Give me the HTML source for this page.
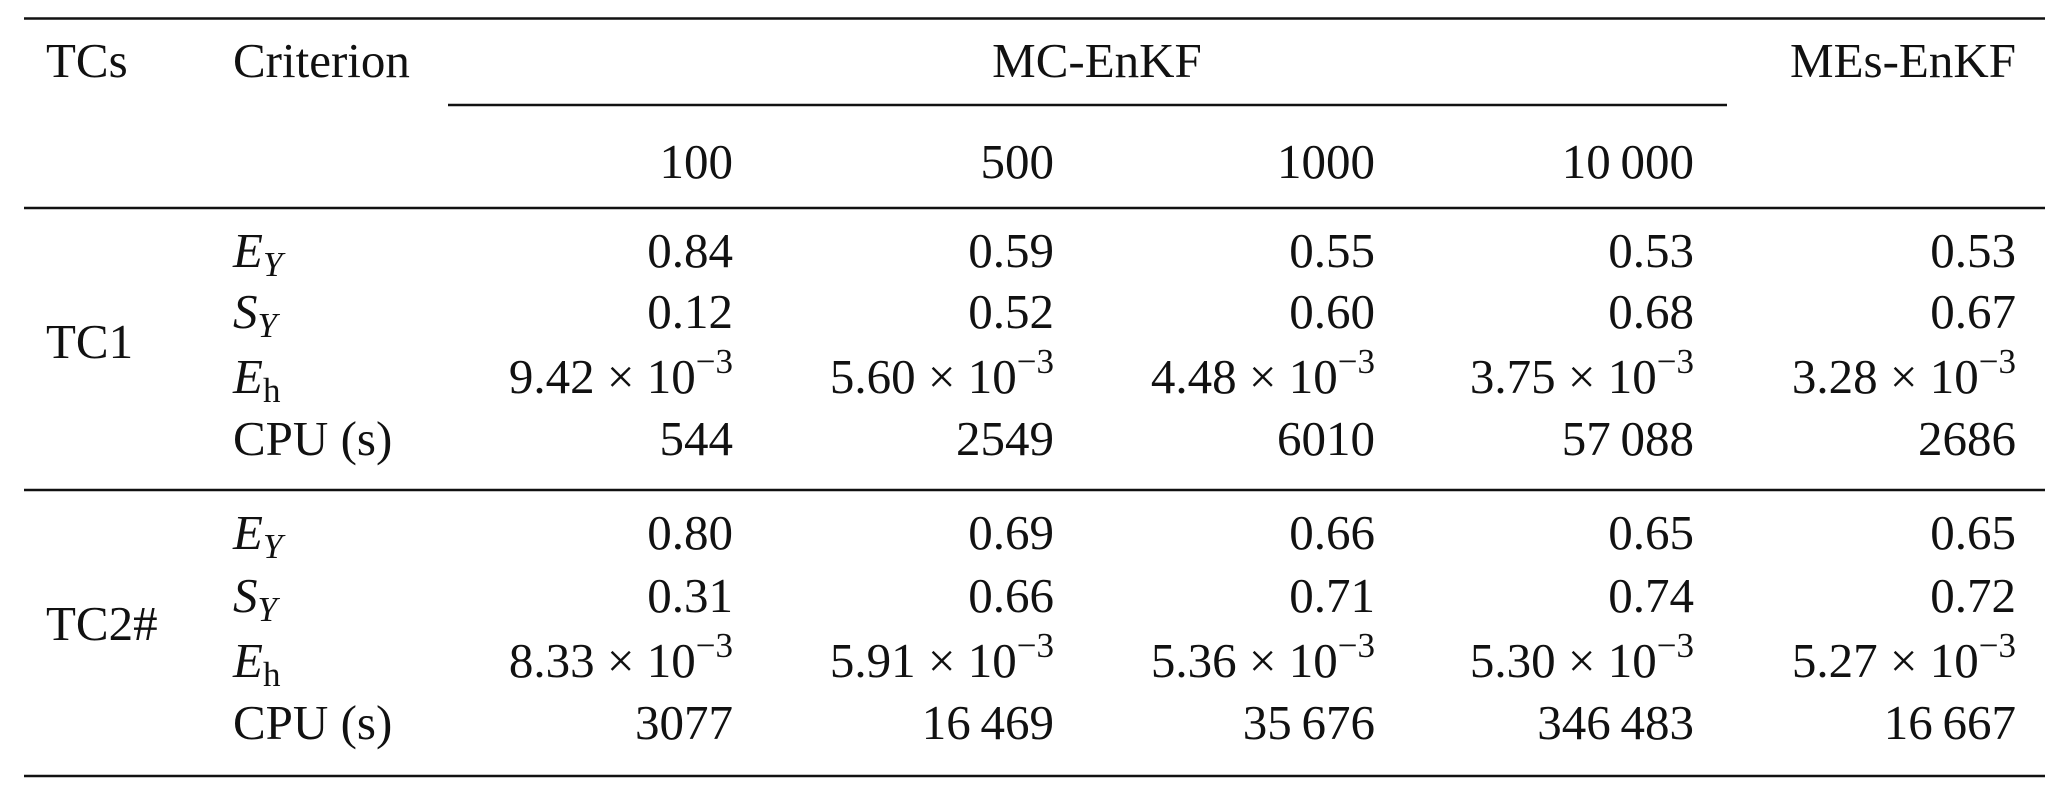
<!DOCTYPE html>
<html><head><meta charset="utf-8"><style>
html,body{margin:0;padding:0;background:#fff;}
svg{display:block;}
text{font-family:"Liberation Serif",serif;font-size:49px;fill:#111;}
.s{font-size:35px;}
</style></head><body>
<svg width="2067" height="795" viewBox="0 0 2067 795" xmlns="http://www.w3.org/2000/svg">
<g stroke="#111" stroke-width="2.5">
<line x1="24" y1="18.5" x2="2045" y2="18.5"/>
<line x1="448" y1="105" x2="1727" y2="105"/>
<line x1="24" y1="208" x2="2045" y2="208"/>
<line x1="24" y1="490" x2="2045" y2="490"/>
<line x1="24" y1="776" x2="2045" y2="776"/>
</g>
<text x="46" y="77">TCs</text>
<text x="233" y="77">Criterion</text>
<text x="1097" y="77" text-anchor="middle">MC-EnKF</text>
<text x="2016" y="77" text-anchor="end">MEs-EnKF</text>
<g text-anchor="end">
<text x="733" y="178">100</text>
<text x="1054" y="178">500</text>
<text x="1375" y="178">1000</text>
<text x="1694" y="178">10&#8201;000</text>
</g>
<text x="46" y="358">TC1</text>
<text x="46" y="640">TC2#</text>

<g>
<text x="233" y="267"><tspan font-style="italic">E</tspan><tspan class="s" font-style="italic" dy="9">Y</tspan></text>
<text x="233" y="328"><tspan font-style="italic">S</tspan><tspan class="s" font-style="italic" dy="9">Y</tspan></text>
<text x="233" y="393"><tspan font-style="italic">E</tspan><tspan class="s" dy="9">h</tspan></text>
<text x="233" y="455">CPU (s)</text>
<text x="233" y="549"><tspan font-style="italic">E</tspan><tspan class="s" font-style="italic" dy="9">Y</tspan></text>
<text x="233" y="612"><tspan font-style="italic">S</tspan><tspan class="s" font-style="italic" dy="9">Y</tspan></text>
<text x="233" y="677"><tspan font-style="italic">E</tspan><tspan class="s" dy="9">h</tspan></text>
<text x="233" y="739">CPU (s)</text>
</g>

<g text-anchor="end">
<text x="733" y="267">0.84</text><text x="1054" y="267">0.59</text><text x="1375" y="267">0.55</text><text x="1694" y="267">0.53</text><text x="2016" y="267">0.53</text>
<text x="733" y="328">0.12</text><text x="1054" y="328">0.52</text><text x="1375" y="328">0.60</text><text x="1694" y="328">0.68</text><text x="2016" y="328">0.67</text>
<text x="733" y="393">9.42 × 10<tspan class="s" dy="-20">−3</tspan></text>
<text x="1054" y="393">5.60 × 10<tspan class="s" dy="-20">−3</tspan></text>
<text x="1375" y="393">4.48 × 10<tspan class="s" dy="-20">−3</tspan></text>
<text x="1694" y="393">3.75 × 10<tspan class="s" dy="-20">−3</tspan></text>
<text x="2016" y="393">3.28 × 10<tspan class="s" dy="-20">−3</tspan></text>
<text x="733" y="455">544</text><text x="1054" y="455">2549</text><text x="1375" y="455">6010</text><text x="1694" y="455">57&#8201;088</text><text x="2016" y="455">2686</text>
<text x="733" y="549">0.80</text><text x="1054" y="549">0.69</text><text x="1375" y="549">0.66</text><text x="1694" y="549">0.65</text><text x="2016" y="549">0.65</text>
<text x="733" y="612">0.31</text><text x="1054" y="612">0.66</text><text x="1375" y="612">0.71</text><text x="1694" y="612">0.74</text><text x="2016" y="612">0.72</text>
<text x="733" y="677">8.33 × 10<tspan class="s" dy="-20">−3</tspan></text>
<text x="1054" y="677">5.91 × 10<tspan class="s" dy="-20">−3</tspan></text>
<text x="1375" y="677">5.36 × 10<tspan class="s" dy="-20">−3</tspan></text>
<text x="1694" y="677">5.30 × 10<tspan class="s" dy="-20">−3</tspan></text>
<text x="2016" y="677">5.27 × 10<tspan class="s" dy="-20">−3</tspan></text>
<text x="733" y="739">3077</text><text x="1054" y="739">16&#8201;469</text><text x="1375" y="739">35&#8201;676</text><text x="1694" y="739">346&#8201;483</text><text x="2016" y="739">16&#8201;667</text>
</g>
</svg>
</body></html>
